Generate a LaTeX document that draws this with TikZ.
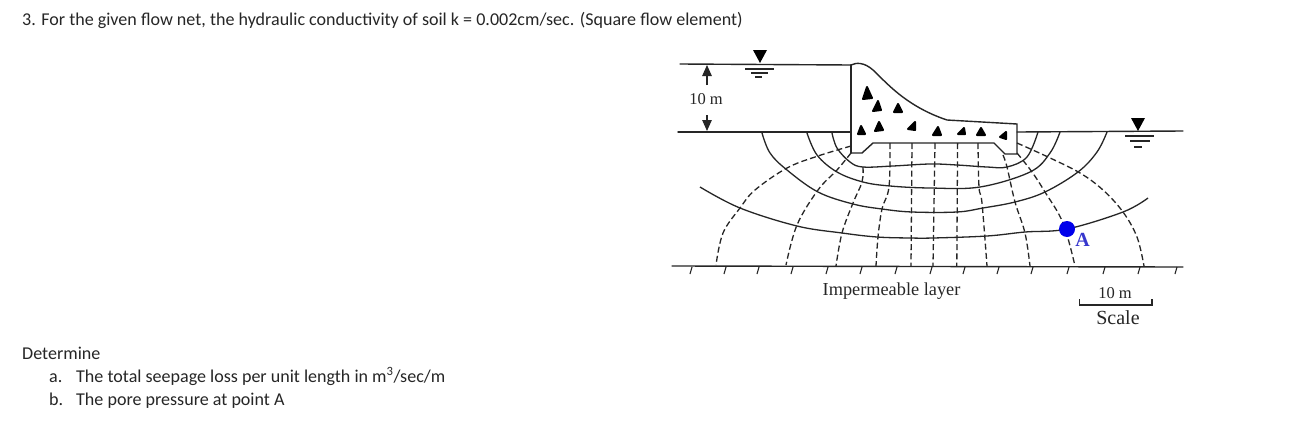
\documentclass[tikz,border=0pt]{standalone}
\usetikzlibrary{arrows.meta}
\usepackage{fontspec}
\setmainfont{Carlito}
\newfontfamily\serifdiag{Liberation Serif}
\definecolor{dotblue}{RGB}{0,0,235}
\definecolor{labelblue}{RGB}{55,55,205}
\begin{document}
\begin{tikzpicture}[x=1pt,y=-1pt,
  line/.style={draw=black!85,line width=1.4pt,line cap=round},
  flowline/.style={draw=black!85,line width=1.3pt,smooth,tension=0.6},
  equip/.style={draw=black!85,line width=1.3pt,dash pattern=on 6pt off 3.2pt,smooth,tension=0.6},
  hatchline/.style={draw=black!85,line width=1.1pt},
  rock/.style={fill=black,draw=black,line width=2pt,line join=round},
  qtext/.style={anchor=base west,inner sep=0pt,font=\fontsize{18.05}{20}\selectfont,text=black!85},
  diaglabel/.style={inner sep=0pt,font=\serifdiag\fontsize{18.3}{20}\selectfont,text=black!85},
  arr/.style={draw=black!85,line width=1.3pt,-{Triangle[length=11pt,width=9.5pt]}}
]
\useasboundingbox (0,0) rectangle (1315,426);
\fill[white] (0,0) rectangle (1315,426);

% question text
\node[qtext] (q) at (22,25.3) {3. For the given flow net, the hydraulic conductivity of soil k = 0.002cm/sec. (Square flow element)};
\node[qtext] (det) at (22,359) {Determine};
\node[qtext] (a1) at (49,382) {a.};
\node[qtext] (a2) at (76,382) {The total seepage loss per unit length in m\textsuperscript{3}/sec/m};
\node[qtext] (b1) at (49,405) {b.};
\node[qtext] (b2) at (76,405) {The pore pressure at point A};

% water and ground
\draw[line] (680,64) -- (851,65);
\draw[line] (678,132) -- (851,132);
\draw[line] (1017,132) -- (1183,131);
% dam
\draw[line] (851,153) -- (851,65);
\draw[line] (851,65) .. controls (856,62.5) and (864,62) .. (873,70)
  .. controls (885,81) and (905,106) .. (947,120) -- (1017,124) -- (1017,154) -- (1005,154) -- (994,143) -- (873,143) -- (862,153) -- (851,153);
% level arrows
\coordinate (u1) at (707,85); \coordinate (u2) at (707,65);
\coordinate (d1) at (707,115); \coordinate (d2) at (707,131);
\draw[arr] (u1) -- (u2);
\draw[arr] (d1) -- (d2);
\node[diaglabel,font=\serifdiag\fontsize{16.5}{20}\selectfont] (tenm) at (706,99) {10 m};

% water symbols
\fill[black] (753,50) -- (767,50) -- (760,63) -- cycle;
\draw[hatchline] (745,69) -- (774,69) (751,73) -- (768,73) (755,77) -- (762,77);
\fill[black] (1131,118) -- (1145,118) -- (1138,131) -- cycle;
\draw[hatchline] (1125,136) -- (1154,136) (1130,141) -- (1150,141) (1134,147) -- (1142,147);

% rocks
\fill[rock] (867,87) -- (872,98) -- (863,99) -- cycle;
\fill[rock] (878,101) -- (881,110) -- (873,111) -- cycle;
\fill[rock] (898,104) -- (902,112) -- (894,112) -- cycle;
\fill[rock] (861,126) -- (865,134) -- (858,134) -- cycle;
\fill[rock] (879,122) -- (883,130) -- (875,131) -- cycle;
\fill[rock] (915,122) -- (915,130) -- (908,129) -- cycle;
\fill[rock] (938,127) -- (941,135) -- (933,135) -- cycle;
\fill[rock] (964,128) -- (965,134) -- (958,134) -- cycle;
\fill[rock] (981,128) -- (985,135) -- (977,135) -- cycle;
\fill[rock] (1006,132) -- (1006,139) -- (1000,137) -- cycle;

% flow lines
\draw[flowline] plot coordinates {(832,133) (837,148) (850,162) (863,167) (893,166) (930,164) (957,165) (987,167) (1007,167) (1027,157) (1038,132)};
\draw[flowline] plot coordinates {(807,133) (817,155) (837,172) (863,182) (890,186) (930,188) (980,187) (1030,172) (1050,153) (1060,132)};
\draw[flowline] plot coordinates {(762,133) (770,153) (787,170) (818,192) (853,204) (882,209) (912,212) (957,212) (983,208) (1015,202) (1045,192) (1078,172) (1097,152) (1107,132)};
\draw[flowline] plot coordinates {(700,187) (740,208) (797,226) (842,233) (877,237) (910,238) (933,238) (987,236) (1025,232) (1067,229) (1123,212) (1148,198)};

% equipotential lines
\draw[equip] plot coordinates {(851,146) (818,156) (787,168) (755,190) (740,208) (723,233) (716,265)};
\draw[equip] plot coordinates {(851,153) (837,170) (818,190) (797,225) (786,265)};
\draw[equip] plot coordinates {(863,167) (862,182) (853,203) (842,233) (836,266)};
\draw[equip] plot coordinates {(890,143) (889,187) (882,209) (878,237) (876,266)};
\draw[equip] plot coordinates {(912,143) (911,266)};
\draw[equip] plot coordinates {(935,143) (933,266)};
\draw[equip] plot coordinates {(957.6,143) (956.8,266)};
\draw[equip] plot coordinates {(978,143) (979,187) (982,203) (987,266)};
\draw[equip] plot coordinates {(1003,155) (1007,167) (1015,202) (1025,233) (1030,266)};
\draw[equip] plot coordinates {(1017,153) (1032,172) (1045,192) (1063,223) (1075,266)};
\draw[equip] plot coordinates {(1017,143) (1048,157) (1080,173) (1103,190) (1123,212) (1137,237) (1144,266)};

% impermeable layer
\draw[line] (672,266) -- (1183,267);
\foreach \hx in {692,726,759,793,828,862,897,932,965,999,1033,1069,1105,1140,1177}
  \draw[hatchline] (\hx,267) -- (\hx-2,274);

\node[diaglabel] (imp) at (891.5,291.5) {Impermeable layer};
\node[diaglabel,font=\serifdiag\fontsize{16.5}{20}\selectfont] (scaleten) at (1115,293) {10 m};
\node[diaglabel,font=\serifdiag\fontsize{20}{20}\selectfont] (scalelab) at (1118,318) {Scale};
\draw[hatchline] (1079.5,299) -- (1079.5,305) -- (1152,305) -- (1152,299);

% point A
\fill[dotblue] (1067,229) circle (8);
\node[inner sep=0pt,font=\serifdiag\bfseries\fontsize{20}{20}\selectfont,text=labelblue] (ptA) at (1082.5,240) {A};
\end{tikzpicture}
\end{document}
